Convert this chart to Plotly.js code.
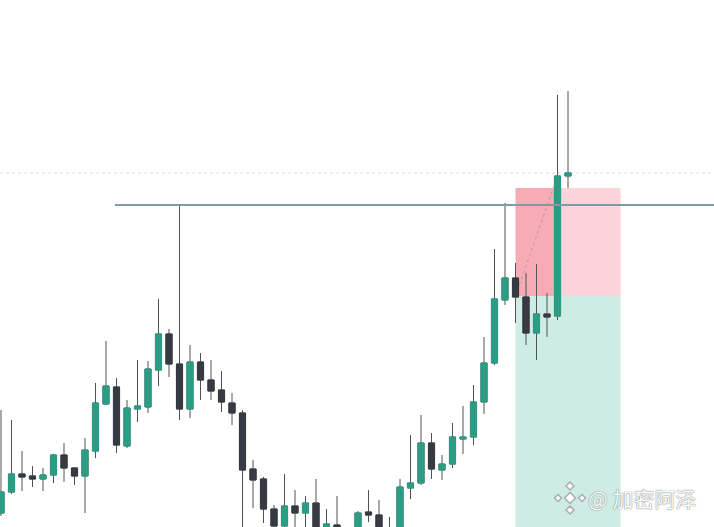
<!DOCTYPE html>
<html>
<head>
<meta charset="utf-8">
<script src="https://cdn.plot.ly/plotly-3.0.1.min.js"></script>
<style>
html,body{margin:0;padding:0;background:#fff;}
#chart{width:714px;height:527px;}
</style>
</head>
<body>
<div id="chart"></div>
<script>
// Candle index (bar number)
const bars = [0,1,2,3,4,5,6,7,8,9,10,11,12,13,14,15,16,17,18,19,20,21,22,23,24,25,26,27,28,29,30,31,32,33,34,35,36,37,38,39,40,41,42,43,44,45,46,47,48,49,50,51,52,53,54];
const opens  = [14,35,53,51,48,52,72,59,51,76,123,140,81,118,120,157,193,163,118,165,147,137,124,114,58,48,18,1,21,14,24,-1,2,-3,-3,15,12,-13,-3,39,44,84,57,63,88,90,125,164,227,249,230,194,213,211,351];
const highs  = [117,107,76,61,59,73,84,60,89,144,186,149,127,167,166,228,198,322,182,174,167,156,134,117,67,50,22,53,37,31,48,18,31,-1,16,37,27,10,48,92,112,94,72,104,121,142,190,278,324,264,254,263,234,432,436];
const lows   = [11,33,36,40,36,44,45,42,14,69,122,74,79,105,114,141,150,107,109,127,127,115,102,-3,19,4,-8,-8,-3,-3,-13,-13,-13,-23,-8,5,-8,-18,-8,28,42,48,47,59,73,82,113,162,222,204,182,167,190,207,339];
const closes = [35,53,50,48,52,72,59,51,77,124,141,82,119,121,158,193,163,118,165,147,136,125,114,57,47,18,1,21,14,24,-1,3,-3,-18,14,12,-3,-3,40,44,84,58,63,90,90,125,164,228,249,230,194,213,210,351,354];

// Reference levels (price units)
const resistanceLevel = 322;
const resistanceStartBar = 10.85;
const lastPriceLevel = 354;
const positionEntry = 231;
const positionTarget = 339;
const positionStop = -60;
const positionStartBar = 49;
const positionNowBar = 53;
const positionEndBar = 59;

const upColor = '#2a9d84';
const downColor = '#373a43';
const wickColor = '#4f5256';

const bodyHigh = opens.map((o, i) => Math.max(o, closes[i]));
const bodyLow = opens.map((o, i) => Math.min(o, closes[i]));

const wicks = {
  type: 'candlestick', x: bars, open: opens, high: highs, low: lows, close: closes,
  increasing: {line: {color: wickColor, width: 1}, fillcolor: wickColor},
  decreasing: {line: {color: wickColor, width: 1}, fillcolor: wickColor},
  hoverinfo: 'skip', showlegend: false
};
const bodies = {
  type: 'candlestick', x: bars, open: opens, high: bodyHigh, low: bodyLow, close: closes,
  increasing: {line: {color: upColor, width: 1}, fillcolor: upColor},
  decreasing: {line: {color: downColor, width: 1}, fillcolor: downColor},
  showlegend: false
};

const W = 714, H = 527;
const px = v => v / W;
const py = v => 1 - v / H;

function diamond(cx, cy, r) {
  return `M ${px(cx - r)} ${py(cy)} L ${px(cx)} ${py(cy - r)} L ${px(cx + r)} ${py(cy)} L ${px(cx)} ${py(cy + r)} Z`;
}
const logoShapes = [
  [570, 498, 5.5], [558, 498, 3.5], [582, 498, 3.5], [570, 486, 4], [570, 510, 4]
].map(d => ({
  type: 'path', xref: 'paper', yref: 'paper', path: diamond(d[0], d[1], d[2]),
  fillcolor: 'rgba(255,255,255,0.95)', line: {color: '#a9adb0', width: 1.5}, layer: 'above'
}));

const shapes = [
  // position tool: stop (pink) area
  {type: 'rect', xref: 'x', yref: 'y', x0: positionStartBar, x1: positionNowBar, y0: positionEntry, y1: positionTarget,
   fillcolor: '#f7abb5', line: {width: 0}, layer: 'below'},
  {type: 'rect', xref: 'x', yref: 'y', x0: positionNowBar, x1: positionEndBar, y0: positionEntry, y1: positionTarget,
   fillcolor: '#fad4da', line: {width: 0}, layer: 'below'},
  // target (green) area
  {type: 'rect', xref: 'x', yref: 'y', x0: positionStartBar, x1: positionEndBar, y0: positionStop, y1: positionEntry,
   fillcolor: '#cfece4', line: {width: 0}, layer: 'below'},
  // entry-to-price dotted line
  {type: 'line', xref: 'x', yref: 'y', x0: positionStartBar, x1: positionNowBar, y0: positionEntry, y1: closes[positionNowBar],
   line: {color: 'rgba(110,110,150,0.45)', width: 1, dash: 'dot'}, layer: 'below'},
  // last price dotted line
  {type: 'line', xref: 'paper', yref: 'y', x0: 0, x1: 1, y0: lastPriceLevel, y1: lastPriceLevel,
   line: {color: '#d6d8da', width: 1, dash: 'dot'}, layer: 'below'},
  // resistance line
  {type: 'line', xref: 'x', yref: 'y', x0: resistanceStartBar, x1: 70, y0: resistanceLevel, y1: resistanceLevel,
   line: {color: '#7f9c9e', width: 2}, layer: 'above'}
].concat(logoShapes);

const layout = {
  width: W, height: H,
  margin: {l: 0, r: 0, t: 0, b: 0},
  paper_bgcolor: '#ffffff', plot_bgcolor: '#ffffff',
  showlegend: false,
  boxgap: 0.17,
  xaxis: {range: [-0.095, 67.905], visible: false, showgrid: false, zeroline: false,
          rangeslider: {visible: false}, fixedrange: true},
  yaxis: {range: [0, 527], visible: false, showgrid: false, zeroline: false, fixedrange: true},
  shapes: shapes,
  annotations: [{
    xref: 'paper', yref: 'paper', x: px(586), y: py(498), xanchor: 'left', yanchor: 'middle',
    text: '@ 加密阿泽', showarrow: false,
    font: {family: '"Noto Sans CJK SC", "Noto Sans", sans-serif', size: 21, color: 'rgba(255,255,255,0.97)',
           shadow: '0px 0px 1px #7d8185, 0px 0px 1px #7d8185'}
  }]
};

Plotly.newPlot('chart', [wicks, bodies], layout, {displayModeBar: false, staticPlot: true});
</script>
</body>
</html>
